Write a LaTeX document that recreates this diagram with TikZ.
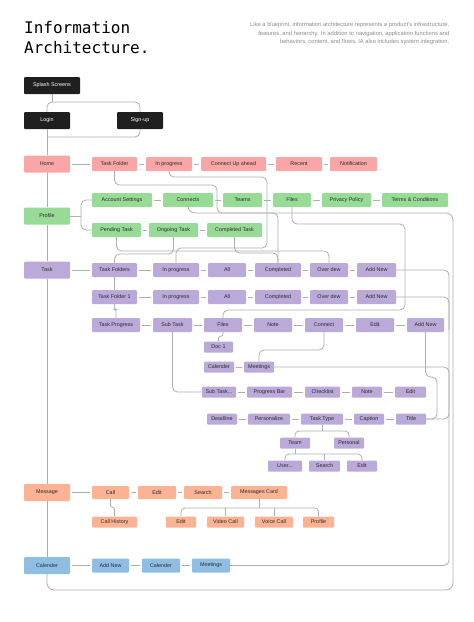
\documentclass[tikz,border=0pt]{standalone}
\usepackage{fontspec}
\setmainfont{Liberation Sans}
\newfontfamily\titlefont{DejaVu Sans Mono}
\usetikzlibrary{positioning}
\definecolor{inkbox}{HTML}{1F1F1F}
\definecolor{homebox}{HTML}{F8A6A6}
\definecolor{profbox}{HTML}{97DB97}
\definecolor{taskbox}{HTML}{BBA9D9}
\definecolor{msgbox}{HTML}{FCB394}
\definecolor{calbox}{HTML}{8FBEE5}
\definecolor{wirecol}{HTML}{AEAEAE}
\definecolor{notegray}{HTML}{8A8A8A}
\definecolor{labelink}{HTML}{2A2A2A}

\begin{document}
\begin{tikzpicture}[x=1pt,y=-1pt,
	box/.style={rectangle, rounded corners=1pt, inner sep=0pt, minimum height=14pt, font=\fontsize{5.4}{6.5}\selectfont, text=labelink},
	big/.style={box, minimum width=46pt, minimum height=17pt},
	low/.style={minimum height=11pt},
	ink/.style={box, fill=inkbox, text=white, minimum height=17pt},
	home/.style={box, fill=homebox},
	prof/.style={box, fill=profbox},
	task/.style={box, fill=taskbox},
	msg/.style={box, fill=msgbox},
	cal/.style={box, fill=calbox},
	wire/.style={draw=wirecol, line width=0.8pt, rounded corners=5pt},
	tie/.style={draw=wirecol, line width=0.8pt, shorten <=2pt, shorten >=2pt}]
	\useasboundingbox (0,0) rectangle (474,622);
	% heading
	\node[anchor=base west, inner sep=0pt, font=\titlefont\fontsize{16}{20}\selectfont] (titleA) at (24,33) {Information};
	\node[anchor=base west, inner sep=0pt, font=\titlefont\fontsize{16}{20}\selectfont] (titleB) at (24,53) {Architecture.};
	\node[anchor=north east, inner sep=0pt, align=right, text=notegray, font=\fontsize{5.8}{8.3}\selectfont] (blurb) at (449.5,22.5)
		{Like a blueprint, information architecture represents a product's infrastructure,\\
		features, and hierarchy. In addition to navigation, application functions and\\
		behaviors, content, and flows, IA also includes system integration.};
	% entry
	\node[ink, minimum width=56pt] (splash) at (52,85.5) {Splash Screens};
	\node[ink, minimum width=46pt] (login) at (47,120.5) {Login};
	\node[ink, minimum width=46pt] (signup) at (140,120.5) {Sign-up};
	% left column
	\node[big, fill=homebox] (home) at (47,164) {Home};
	\node[big, fill=profbox] (profile) at (47,216) {Profile};
	\node[big, fill=taskbox] (task) at (47,270) {Task};
	\node[big, fill=msgbox] (message) at (47,492.5) {Message};
	\node[big, fill=calbox] (calL) at (47,565.5) {Calender};
	% home
	\foreach \nm/\x/\w/\txt in {hFolder/114.5/45/Task Folder, hProgress/169/46/In progress, hConnect/233.5/65/Connect Up ahead, hRecent/299/46/Recent, hNotify/353.5/47/Notification}
	{
		\node[home, minimum width=\w pt] (\nm) at (\x,164) {\txt};
	}
	% profile
	\foreach \nm/\x/\w/\txt in {gAccount/122/60/Account Settings, gConnects/188/50/Connects, gTeams/242.5/39/Teams, gFiles/292/38/Files, gPrivacy/346.5/49/Privacy Policy, gTerms/415/66/Terms \& Conditions}
	{
		\node[prof, minimum width=\w pt] (\nm) at (\x,200) {\txt};
	}
	\foreach \nm/\x/\w/\txt in {gPending/116.5/49/Pending Task, gOngoing/173.5/49/Ongoing Task, gCompleted/234.5/55/Completed Task}
	{
		\node[prof, minimum width=\w pt] (\nm) at (\x,230) {\txt};
	}
	% task
	\foreach \nm/\x/\w/\txt in {tFolders/114.5/45/Task Folders, tProgA/176/46/In progress, tAllA/227/38/All, tDoneA/278/46/Completed, tDueA/329/38/Over dew, tNewA/376.5/39/Add New}
	{
		\node[task, minimum width=\w pt] (\nm) at (\x,270) {\txt};
	}
	\foreach \nm/\x/\w/\txt in {tFolder/114.5/45/Task Folder 1, tProgB/176/46/In progress, tAllB/227/38/All, tDoneB/278/46/Completed, tDueB/329/38/Over dew, tNewB/376.5/39/Add New}
	{
		\node[task, minimum width=\w pt] (\nm) at (\x,297) {\txt};
	}
	\foreach \nm/\x/\w/\txt in {tTrack/116/48/Task Progress, tSub/172.5/39/Sub Task, tFiles/223/38/Files, tNote/273/38/Note, tConnect/324/38/Connect, tEdit/375/38/Edit, tNewC/425.5/37/Add New}
	{
		\node[task, minimum width=\w pt] (\nm) at (\x,325) {\txt};
	}
	\node[task, low, minimum width=29pt] (tDoc) at (218.5,347) {Doc 1};
	\node[task, low, minimum width=30pt] (tCal) at (219,367) {Calender};
	\node[task, low, minimum width=30pt] (tMeet) at (259,367) {Meetings};
	\node[task, low, minimum width=34pt] (sSub) at (219,392) {Sub Task...};
	\foreach \nm/\x/\w/\txt in {sBar/269.5/45/Progress Bar, sCheck/322.5/35/Checklist, sNote/367/30/Note, sEdit/410.5/31/Edit}
	{
		\node[task, low, minimum width=\w pt] (\nm) at (\x,392) {\txt};
	}
	\foreach \nm/\x/\w/\txt in {dDead/222/30/Deadline, dPers/269/42/Personalize, dType/322/42/Task Type, dCap/369/30/Caption, dTitle/411/30/Title}
	{
		\node[task, low, minimum width=\w pt] (\nm) at (\x,419) {\txt};
	}
	\node[task, low, minimum width=30pt] (team) at (295,443) {Team};
	\node[task, low, minimum width=30pt] (personal) at (349,443) {Personal};
	\node[task, low, minimum width=34pt] (user) at (285,466) {User...};
	\node[task, low, minimum width=31pt] (search) at (324.5,466) {Search};
	\node[task, low, minimum width=30pt] (tedit) at (362,466) {Edit};
	% message
	\foreach \nm/\x/\w/\txt in {mCall/110.5/37/Call, mEdit/157/38/Edit, mSearch/203/38/Search, mCard/259/56/Messages Card}
	{
		\node[msg, minimum height=13pt, minimum width=\w pt] (\nm) at (\x,492.5) {\txt};
	}
	\foreach \nm/\x/\w/\txt in {mHistory/114.5/45/Call History, mEditB/181/30/Edit, mVideo/225.5/37/Video Call, mVoice/274/38/Voice Call, mProfile/318.5/31/Profile}
	{
		\node[msg, low, minimum width=\w pt] (\nm) at (\x,522) {\txt};
	}
	% calender
	\foreach \nm/\x/\w/\txt in {cNew/110.5/37/Add New, cCal/161/38/Calender, cMeet/211/38/Meetings}
	{
		\node[cal, minimum width=\w pt] (\nm) at (\x,565.5) {\txt};
	}
	% row links
	\foreach \a/\b in {home/hFolder, hFolder/hProgress, hProgress/hConnect, hConnect/hRecent, hRecent/hNotify,
		gAccount/gConnects, gConnects/gTeams, gTeams/gFiles, gFiles/gPrivacy, gPrivacy/gTerms, gPending/gOngoing, gOngoing/gCompleted,
		task/tFolders, tFolders/tProgA, tProgA/tAllA, tAllA/tDoneA, tDoneA/tDueA, tDueA/tNewA,
		tFolder/tProgB, tProgB/tAllB, tAllB/tDoneB, tDoneB/tDueB, tDueB/tNewB,
		tTrack/tSub, tSub/tFiles, tFiles/tNote, tNote/tConnect, tConnect/tEdit, tEdit/tNewC, tCal/tMeet,
		sSub/sBar, sBar/sCheck, sCheck/sNote, sNote/sEdit, dDead/dPers, dPers/dType, dType/dCap, dCap/dTitle,
		message/mCall, mCall/mEdit, mEdit/mSearch, mSearch/mCard, calL/cNew, cNew/cCal, cCal/cMeet}
	{
		\draw[tie] (\a.east) -- (\b.west);
	}
	% spine
	\draw[wire] (splash.south) -- (52,102);
	\draw[wire] (login.north) |- (96,102) -| (signup.north);
	\draw[wire] (signup.south) |- (47,137);
	\foreach \a/\b in {login/home, home/profile, profile/task, task/message, message/calL, tFolders/tFolder}
	{
		\draw[wire] (\a.south) -- (\b.north);
	}
	\draw[wire] (gAccount.west) -| (81,216) |- (gPending.west);
	\draw[wire] (profile.east) -- (81,216);
	% cross links
	\draw[wire] (hFolder.south) |- (217,185) |- (278,213) -- (tDoneA.north);
	\draw[wire] (hProgress.south) |- (267,177) |- (190,248) -| (tProgA.north);
	\draw[wire] (gPending.south) |- (300,251) -| (tDueA.north);
	\draw[wire] (gOngoing.south) |- (130,254) -| (tFolders.north);
	\draw[wire] (gCompleted.south) |- (260,253) -| (tDoneA.north);
	\draw[wire] (gFiles.south) |- (405,224) |- (300,310) -| (tFiles.north);
	\draw[wire, rounded corners=7pt] (calL.south) |- (453,590) -- (453,213) -| (gConnects.south);
	\draw[wire] (tNewA.east) -| (449,540) |- (cMeet.east);
	\draw[wire] (tNewB.east) -| (449,330);
	\draw[wire] (tMeet.east) -| (449,400) |- (dTitle.east);
	\draw[wire] (tNewC.south) |- (437,377) |- (dTitle.east);
	\draw[wire] (tConnect.south) |- (300,350) -| (tMeet.north);
	\draw[wire, rounded corners=2pt] (tFolder.south) -- ++(0,5) -| (tTrack.north);
	\draw[wire, rounded corners=2pt] (tFiles.south) -- ++(0,4) -| (tDoc.north);
	\draw[wire] (tSub.south) |- (sSub.west);
	% braces
	\draw[wire, rounded corners=4pt] (team.north) |- (322,431) -| (personal.north);
	\draw[wire] (dType.south) -- (dType.south |- 0,431);
	\draw[wire, rounded corners=4pt] (user.north) |- (324,454) -| (tedit.north);
	\draw[wire] (team.south) -- (team.south |- 0,454);
	\draw[wire] (search.north) -- (search.north |- 0,454);
	\draw[wire, rounded corners=2pt] (mCall.south) -- ++(0,8) -| (mHistory.north);
	\draw[wire, rounded corners=4pt] (mEditB.north) |- (259,508) -| (mProfile.north);
	\draw[wire] (mCard.south) -- (mCard.south |- 0,508);
	\draw[wire] (mVideo.north) -- (mVideo.north |- 0,508);
	\draw[wire] (mVoice.north) -- (mVoice.north |- 0,508);
\end{tikzpicture}
\end{document}
